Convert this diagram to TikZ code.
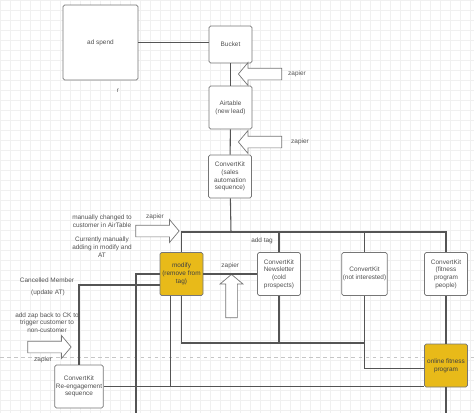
\documentclass[tikz,border=0pt]{standalone}
\usepackage{fontspec}
\setmainfont{Liberation Sans}
\usetikzlibrary{shapes}
\definecolor{inkgray}{rgb}{0.32,0.32,0.32}
\definecolor{wiregray}{rgb}{0.33,0.33,0.33}
\definecolor{tagyellow}{rgb}{0.91,0.73,0.10}

\begin{document}
\begin{tikzpicture}
  [x=0.03cm,y=-0.03cm,
   every node/.style={font=\fontsize{5.5}{6.6}\selectfont,text=inkgray,align=center},
   boxN/.style={draw=wiregray!80,fill=white,rounded corners=0.05cm,line width=0.6pt,
                minimum width=1.29cm,minimum height=1.29cm,inner sep=1pt},
   hiN/.style={boxN,fill=tagyellow,text=black!75},
   zapA/.style={single arrow,draw=wiregray!80,fill=white,line width=0.6pt,
                inner xsep=0pt,inner ysep=0.165cm,
                minimum height=1.3cm,
                single arrow head extend=0.165cm,single arrow tip angle=100},
   wire/.style={draw=wiregray,line width=0.9pt},
  ]

 \useasboundingbox (0,0) rectangle (474,413);
 % canvas
 \draw[gray!12,step=0.3cm] (0,0) grid (474,413);
 \draw[gray!45,dashed,line width=0.6pt] (0,357) -- (474,357);

 % top chain
 \node[boxN,minimum size=2.25cm] (adspend) at (100.5,42.5) {ad spend};
 \node[boxN,minimum height=1.11cm] (bucket) at (230.5,44.5) {Bucket};
 \node[boxN] (airtable) at (230.5,107.5) {Airtable\\(new lead)};
 \node[boxN] (cksales) at (230,176.5) {ConvertKit\\(sales\\automation\\sequence)};
 \node (mark) at (118,91) {r};

 \node[zapA,rotate=180] (zapTop) at (262.5,74) {};
 \node (zapTopL) at (297,74) {zapier};
 \node[zapA,rotate=180] (zapMid) at (262.5,142) {};
 \node (zapMidL) at (300,142) {zapier};

 % tag row
 \node[hiN] (modify) at (181.5,274) {modify\\(remove from\\tag)};
 \node[boxN] (newsletter) at (279,274) {ConvertKit\\Newsletter\\(cold\\prospects)};
 \node[boxN] (notint) at (364.5,274) {ConvertKit\\(not interested)};
 \node[boxN] (ckfit) at (446,274) {ConvertKit\\(fitness\\program\\people)};
 \node[hiN] (fitprog) at (446,365.5) {online fitness\\program};
 \node[boxN] (reengage) at (79,386.5) {ConvertKit\\Re-engagement\\sequence};

 \node (addtag) at (262,241) {add tag};
 \node[zapA,rotate=90] (zapUp) at (231.5,298.5) {};

 % notes on the left
 \node (manual) at (102,221.5) {manually changed to\\customer in AirTable};
 \node (currently) at (102,247) {Currently manually\\adding in modify and\\AT};
 \node[zapA] (zapLeft) at (155,231) {};
 \node (zapLeftL) at (155,217) {zapier};
 \node (cancelled) at (47,280) {Cancelled Member};
 \node (updateAT) at (48,293) {(update AT)};
 \node (addzap) at (47,322.5) {add zap back to CK to\\trigger customer to\\non-customer};
 \node[zapA] (zapLow) at (47,347) {};
 \node (zapLowL) at (43,360) {zapier};

 \coordinate (bus) at (231,232);
 \coordinate (lowbus) at (0,343);
 \coordinate (cancelEnd) at (136,413);
 \coordinate (fitEnd) at (446,413);

 % connectors
 \draw[wire] (adspend.east) -- (adspend.east -| bucket.west);
 \draw[wire] (bucket) -- (airtable);
 \draw[wire] (airtable) -- (cksales);
 \draw[wire] (cksales) -- (bus);
 \draw[wire] (modify.north) |- (bus) -| (ckfit.north);
 \draw[wire] (newsletter.north) -- (newsletter.north |- bus);
 \draw[wire] (notint.north) -- (notint.north |- bus);
 \draw[wire] (modify.east) -- node[above=1pt] {zapier} (newsletter.west);
 \draw[wire] (modify.south) |- (notint.south |- lowbus) -- (notint.south);
 \draw[wire] (newsletter.south) -- (newsletter.south |- lowbus);
 \draw[wire] (notint.south) |- ([yshift=-0.08cm]fitprog.west);
 \draw[wire] (ckfit) -- (fitprog);
 \draw[wire] (fitprog.south) -- (fitEnd);
 \draw[wire] (reengage.east) -- (reengage.east -| fitprog.west);
 \draw[wire] ([xshift=-0.32cm]modify.south) -- ([xshift=-0.32cm]modify.south |- reengage.east);
 \draw[wire] (modify.west) -| (cancelEnd);
 \draw[wire] ([yshift=-0.33cm]modify.west) -| (reengage.north);

\end{tikzpicture}
\end{document}
